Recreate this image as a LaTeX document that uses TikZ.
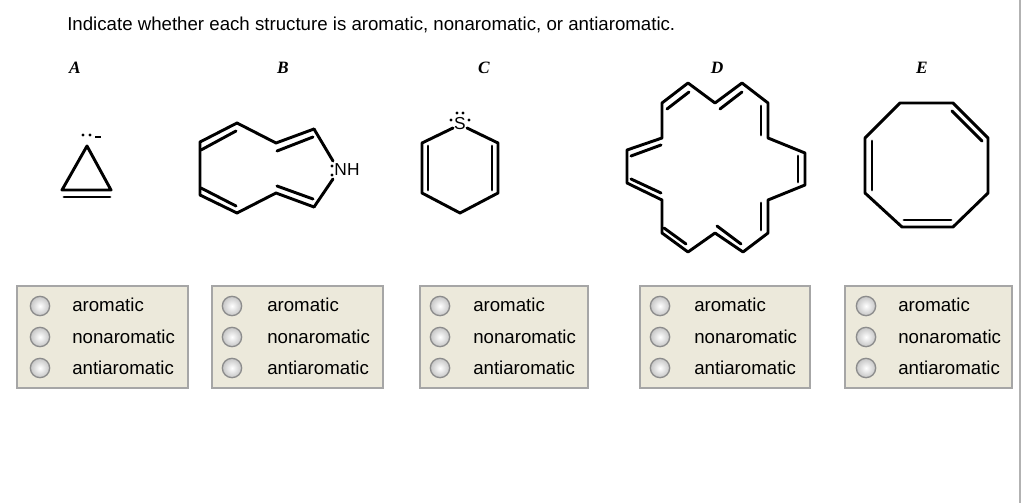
\documentclass[tikz,border=0pt]{standalone}
\usepackage{fontspec}
\setmainfont{Liberation Sans}
\newfontfamily\serifb{Liberation Serif}
\begin{document}
\begin{tikzpicture}[x=0.75pt,y=-0.75pt,
  bond/.style={line width=2.2pt,line cap=round,line join=round},
  lbl/.style={font=\serifb\bfseries\itshape\fontsize{13}{15}\selectfont},
  opt/.style={anchor=west,font=\fontsize{14}{16}\selectfont,inner sep=0pt},
  radio/.style={circle,draw=gray!90,line width=1pt,minimum size=14.5pt,inner sep=0pt,
    shading=radial,inner color=white,outer color=gray!45},
  box/.style={draw=gray!70,line width=1.2pt,fill={rgb,255:red,236;green,233;blue,219}},
  dot/.style={circle,fill=black,inner sep=0pt,minimum size=2.6pt}]
\useasboundingbox (0,0) rectangle (1024,503);
\fill[white] (0,0) rectangle (1024,503);
\draw[gray!60,line width=2pt] (1020,0) -- (1020,503);
\node[anchor=west,font=\fontsize{14}{16}\selectfont,inner sep=0pt] (title) at (67,25) {Indicate whether each structure is aromatic, nonaromatic, or antiaromatic.};
\node[lbl] (la) at (75,68) {A};
\node[lbl] (lb) at (283,68) {B};
\node[lbl] (lc) at (484,68) {C};
\node[lbl] (ld) at (717,68) {D};
\node[lbl] (le) at (922,68) {E};
% A
\draw[bond] (62,190) -- (87,146) -- (111,190) -- cycle;
\draw[bond] (64,197) -- (110,197);
\node[dot] (a1) at (83,135) {}; \node[dot] (a2) at (90,135) {};
\draw[line width=1pt] (95,137) -- (101,137);
% B
\node[font=\fontsize{13}{15}\selectfont,inner sep=1pt] (nh) at (347,170) {NH};
\node[dot] (n1) at (332,166) {}; \node[dot] (n2) at (332,175) {};
\draw[bond] (314,129) -- (333,161);
\draw[bond] (314,207) -- (333,179);
\draw[bond] (314,129) -- (276,143) -- (237,123) -- (200,142) -- (200,195) -- (237,213) -- (276,193) -- (314,207);
\draw[bond] (201,150) -- (236,131);
\draw[bond] (277,151) -- (313,137);
\draw[bond] (313,199) -- (277,186);
\draw[bond] (201,188) -- (236,206);
% C
\node[font=\fontsize{13}{15}\selectfont,inner sep=1pt] (s) at (460,124) {S};
\node[dot] at (457,113) {}; \node[dot] at (463,113) {};
\node[dot] at (451,120) {}; \node[dot] at (469,120) {};
\draw[bond] (453,128) -- (422,143) -- (422,193) -- (460,213) -- (498,193) -- (498,143) -- (467,128);
\draw[bond] (428,146) -- (428,190);
\draw[bond] (492,146) -- (492,190);
% D
\draw[bond] (662,103) -- (688,83) -- (715,103) -- (742,83) -- (768,103) -- (768,138) -- (805,153) -- (805,185) -- (768,200) -- (768,233) -- (743,252) -- (715,233) -- (688,252) -- (662,233) -- (662,200) -- (627,183) -- (627,150) -- (662,138) -- cycle;
\draw[bond] (667,109) -- (689,92);
\draw[bond] (720,109) -- (742,92);
\draw[bond] (761,106) -- (761,135);
\draw[bond] (798,156) -- (798,182);
\draw[bond] (761,203) -- (761,230);
\draw[bond] (741,244) -- (717,226);
\draw[bond] (686,244) -- (664,228);
\draw[bond] (661,193) -- (631,179);
\draw[bond] (631,156) -- (661,145);
% E
\draw[bond] (900,103) -- (953,103) -- (988,138) -- (988,193) -- (953,227) -- (902,227) -- (865,193) -- (865,138) -- cycle;
\draw[bond] (952,111) -- (982,141);
\draw[bond] (872,141) -- (872,190);
\draw[bond] (904,220) -- (951,220);
% boxes
\foreach \bx/\ex/\cx/\tx/\n in {17/188/40/72/1, 212/383/232/267/2, 420/588/440/473/3, 640/810/660/694/4, 845/1012/866/898/5}{
  \draw[box] (\bx,286) rectangle (\ex,388);
  \node[radio] (r\n a) at (\cx,306) {};
  \node[radio] (r\n b) at (\cx,337) {};
  \node[radio] (r\n c) at (\cx,368) {};
  \node[opt] (t\n a) at (\tx,305) {aromatic};
  \node[opt] (t\n b) at (\tx,337) {nonaromatic};
  \node[opt] (t\n c) at (\tx,368) {antiaromatic};
}
\end{tikzpicture}
\end{document}
